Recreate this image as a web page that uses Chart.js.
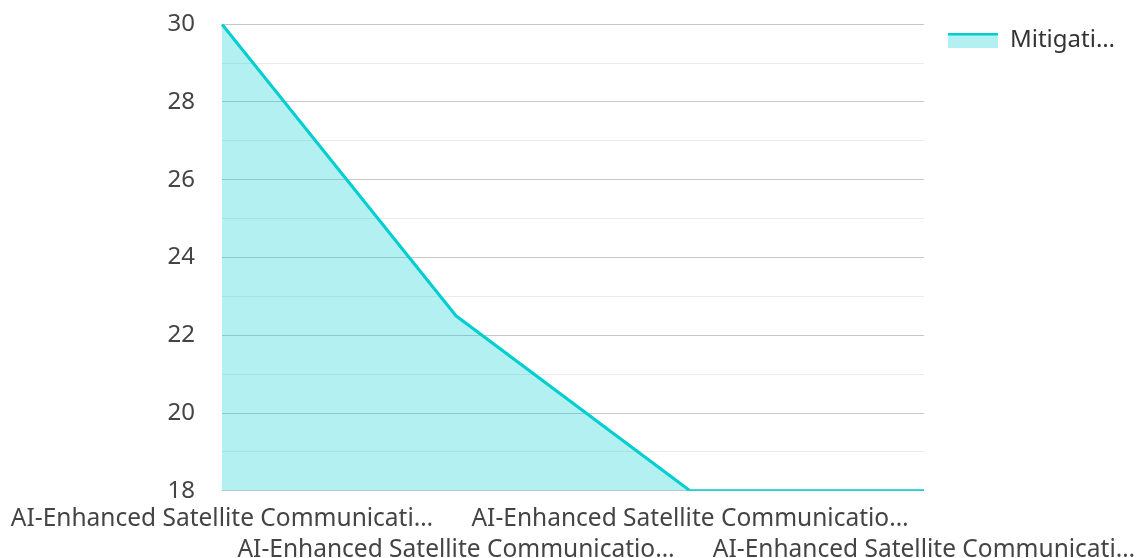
<!DOCTYPE html>
<html>
<head>
<meta charset="utf-8">
<script src="https://cdn.jsdelivr.net/npm/chart.js@4/dist/chart.umd.min.js"></script>
<style>
  html, body { margin: 0; padding: 0; background: #ffffff; }
  #wrap { width: 1140px; height: 558px; position: relative; }
</style>
</head>
<body>
<div id="wrap"><canvas id="chart"></canvas></div>
<script>
// Category labels (as displayed, already shortened)
const categories = [
  'AI-Enhanced Satellite Communicati…',
  'AI-Enhanced Satellite Communicatio…',
  'AI-Enhanced Satellite Communicatio…',
  'AI-Enhanced Satellite Communicati…'
];
const seriesName = 'Mitigati…';
const seriesValues = [30, 22.5, 18, 18];
const yMin = 18;
const yMax = 30;

const lineColor = '#00CED1';
const fillColor = 'rgba(0, 206, 209, 0.3)';
const textColor = '#444444';
const fontFamily = '"Noto Sans", "Open Sans", sans-serif';

// Legend swatch: light fill with a stroke along its top edge
function makeSwatch() {
  const c = document.createElement('canvas');
  c.width = 50; c.height = 15;
  const g = c.getContext('2d');
  g.fillStyle = fillColor;
  g.fillRect(0, 0, 50, 15);
  g.fillStyle = lineColor;
  g.fillRect(0, 0, 50, 3);
  return c;
}
const swatch = makeSwatch();

new Chart(document.getElementById('chart'), {
  type: 'line',
  data: {
    labels: categories,
    datasets: [{
      label: seriesName,
      data: seriesValues,
      borderColor: lineColor,
      backgroundColor: fillColor,
      borderWidth: 3,
      fill: 'origin',
      pointRadius: 0,
      pointHoverRadius: 0,
      tension: 0
    }]
  },
  options: {
    responsive: true,
    maintainAspectRatio: false,
    animation: false,
    layout: { padding: { top: 4, left: 8, right: 0, bottom: -21 } },
    plugins: {
      tooltip: { enabled: false },
      legend: {
        position: 'right',
        align: 'start',
        labels: {
          color: '#333333',
          font: { family: fontFamily, size: 24 },
          usePointStyle: true,
          pointStyleWidth: 50,
          boxHeight: 15,
          padding: 24,
          generateLabels: (chart) => chart.data.datasets.map((ds, i) => ({
            text: ds.label,
            pointStyle: swatch,
            fillStyle: fillColor,
            strokeStyle: lineColor,
            lineWidth: 0,
            hidden: false,
            datasetIndex: i,
            fontColor: '#333333'
          }))
        }
      }
    },
    scales: {
      x: {
        offset: false,
        grid: { display: false, drawTicks: false },
        border: { display: false },
        // room reserved at each end for the wide first / last labels
        afterFit: (scale) => {
          scale.paddingLeft = 222;
          scale.paddingRight = 216;
        },
        ticks: {
          autoSkip: false,
          maxRotation: 0,
          minRotation: 0,
          padding: 13,
          color: textColor,
          font: { family: fontFamily, size: 24.5, lineHeight: 1.27 },
          // alternate rows so neighbouring labels don't collide
          callback: function (value, index) {
            const t = this.getLabelForValue(value);
            return index % 2 === 0 ? [t, ''] : ['', t];
          }
        }
      },
      y: {
        min: yMin,
        max: yMax,
        border: { display: false },
        grid: {
          drawTicks: false,
          lineWidth: 1,
          color: (ctx) => (ctx.tick && ctx.tick.value % 2 === 0) ? '#c8c8c8' : '#ebebeb'
        },
        ticks: {
          stepSize: 1,
          autoSkip: false,
          padding: 23,
          color: textColor,
          font: { family: fontFamily, size: 24, lineHeight: 0.1 },
          // labels on even values only; a thin trailing space widens the gap to the plot
          callback: (v) => (v % 2 === 0 ? String(v) + '\u2009' : '')
        }
      }
    }
  }
});
</script>
</body>
</html>
